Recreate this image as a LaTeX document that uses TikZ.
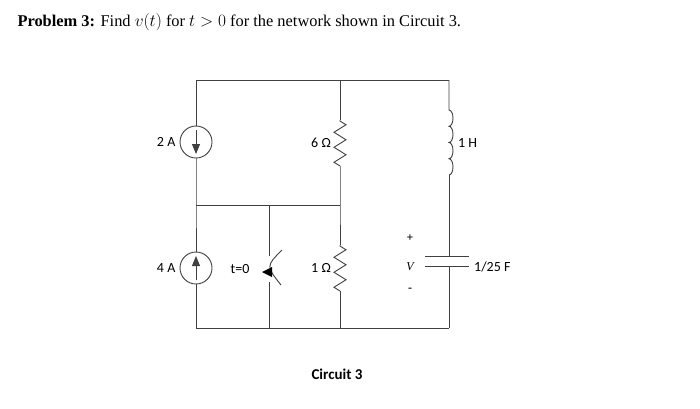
\documentclass[tikz,border=0pt]{standalone}
\usepackage{fontspec}
\setmainfont{Liberation Serif}
\newfontfamily\lblfont{Carlito}
\usetikzlibrary{arrows.meta}
\usetikzlibrary{positioning}
\usetikzlibrary{calc}
\tikzstyle{wire} = [line width=0.9pt, draw=black!75]
\tikzstyle{source} = [circle, draw=black!75, line width=0.9pt, minimum size=32pt, inner sep=0pt]
\tikzstyle{lbl} = [font=\lblfont\fontsize{14}{16}\selectfont, inner sep=1pt]
\newcommand{\zigres}[2]{% resistor from (#1) down to (#2)
  \draw[wire] (#1) -- ++(0,1) -- ++(6,3.75) -- ++(-12,7.5) -- ++(12,7.5) -- ++(-12,7.5) -- ++(12,7.5) -- ++(-12,7.5) -- ++(6,3.75) -- (#2);}
\begin{document}
\begin{tikzpicture}[x=1pt,y=-1pt]
		\useasboundingbox (0,0) rectangle (700,408);
		% title
		\node[anchor=west, font=\fontsize{16.4}{18}\selectfont] (title) at (14,22) {\textbf{Problem 3:} Find $v(t)$ for $t>0$ for the network shown in Circuit 3.};
		% corner points
		\coordinate (tl) at (196,80);
		\coordinate (ml) at (196,205);
		\coordinate (bl) at (196,328);
		\coordinate (tm) at (340,80);
		\coordinate (mm) at (340,205);
		\coordinate (bm) at (340,328);
		\coordinate (tr) at (449,80);
		\coordinate (br) at (449,328);
		\coordinate (ms) at (269,205);
		\coordinate (bs) at (269,328);
		% sources
		\node[source] (src2) at (196,142) {};
		\node[source] (src4) at (196,268) {};
		\draw[wire,-{Triangle[length=10pt,width=8pt]}] ([yshift=12]src2.center) -- ([yshift=-12]src2.center);
		\draw[wire,-{Triangle[length=10pt,width=8pt]}] ([yshift=-12]src4.center) -- ([yshift=12]src4.center);
		\node[lbl, left=3pt of src2] (l2) {2 A};
		\node[lbl, left=3pt of src4] (l4) {4 A};
		% frame wires
		\draw[wire] (tl) -- (src2) (src2) -- (ml) -- (src4) (src4) -- (bl);
		\draw[wire] (tl) -- (tr);
		\draw[wire] (ml) -- (mm);
		\draw[wire] (bl) -- (br);
		% resistors
		\coordinate (r6a) at (340,120);
		\coordinate (r6b) at (340,166);
		\coordinate (r1a) at (340,245);
		\coordinate (r1b) at (340,291);
		\draw[wire] (tm) -- (r6a) (r6b) -- (mm) -- (r1a) (r1b) -- (bm);
		\zigres{r6a}{r6b}
		\zigres{r1a}{r1b}
		\node[lbl, left=8pt of $(r6a)!0.5!(r6b)$] (l6) {6 Ω};
		\node[lbl, left=8pt of $(r1a)!0.5!(r1b)$] (l1) {1 Ω};
		% switch
		\coordinate (swa) at (269,256);
		\coordinate (swb) at (269,282);
		\draw[wire] (ms) -- (swa) (swb) -- (bs);
		\draw[wire] (282,250) .. controls (266,266) .. (281,285);
		\fill[black] (262,272) -- (272,267) -- (272,277) -- cycle;
		\node[lbl] (lsw) at (240,269) {t=0};
		% inductor
		\coordinate (la) at (449,110);
		\coordinate (lb) at (449,175);
		\draw[wire] (tr) -- (la) arc(-90:90:4 and 8.125) arc(-90:90:4 and 8.125) arc(-90:90:4 and 8.125) arc(-90:90:4 and 8.125);
		\node[lbl, right=8pt of $(la)!0.5!(lb)$] (lh) {1 H};
		% capacitor
		\coordinate (ca) at (449,256);
		\coordinate (cb) at (449,266);
		\draw[wire] (lb) -- (ca) (cb) -- (br);
		\draw[wire] (425,256) -- (469,256) (425,266) -- (469,266);
		\node[lbl, anchor=west] (lc) at (473,267) {1/25 F};
		\node[font=\bfseries\large] (vp) at (410,238) {+};
		\node[font=\bfseries\large] (vv) at (410,267) {$\mathbf{\mathit{V}}$};
		\node[font=\bfseries\large] (vm) at (410,290) {-};
		% caption
		\node[font=\lblfont\bfseries\fontsize{15}{17}\selectfont] (cap) at (337,374) {Circuit 3};
	\end{tikzpicture}
\end{document}
